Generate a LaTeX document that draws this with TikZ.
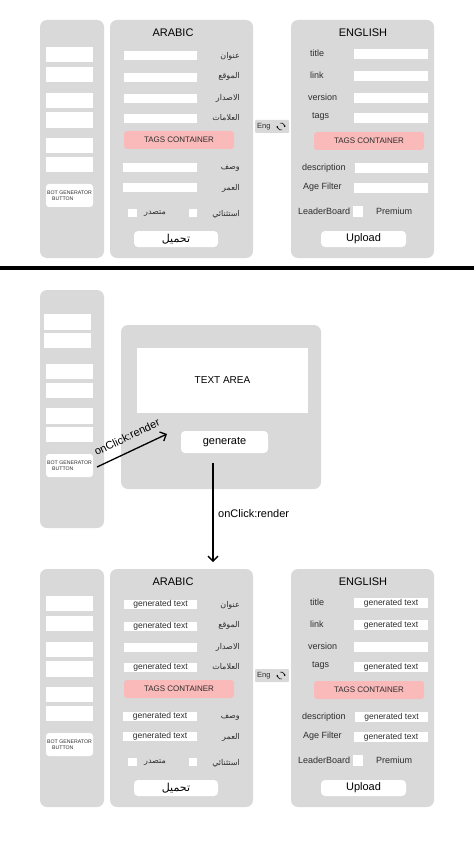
\documentclass[tikz,border=0pt]{standalone}
\usepackage{fontspec}
\setmainfont{Liberation Sans}
\newfontfamily\arabicfont[Script=Arabic]{DejaVu Sans}
\TeXXeTstate=1
\usetikzlibrary{arrows.meta}
\definecolor{panelgray}{RGB}{217,217,217}
\definecolor{tagpink}{RGB}{250,186,186}
\definecolor{labelc}{RGB}{45,45,45}
\newcommand\RL[1]{\beginR #1\endR}
\newcommand\rbox[7]{\node[#1, minimum width={(#5-#3)*1pt}, minimum height={(#6-#4)*1pt}] (#2) at ({(#3+#5)/2},{(#4+#6)/2}) {#7};}
\tikzset{
  panel/.style={fill=panelgray, rounded corners=7pt, inner sep=0pt, outer sep=0pt, draw=none},
  field/.style={fill=white, inner sep=0pt, outer sep=0pt, font=\fontsize{8.5}{9}\selectfont, text=labelc},
  sbox/.style={fill=white, inner sep=0pt, outer sep=0pt},
  botbtn/.style={fill=white, rounded corners=3pt, inner sep=0pt, outer sep=0pt, align=left, font=\fontsize{5.2}{6.5}\selectfont, text=labelc},
  btn/.style={fill=white, rounded corners=4pt, inner sep=0pt, outer sep=0pt, font=\fontsize{11}{12}\selectfont, text=black},
  arbtn/.style={fill=white, rounded corners=4pt, inner sep=0pt, outer sep=0pt, font=\fontsize{11}{12}\arabicfont, text=black},
  tagbox/.style={fill=tagpink, rounded corners=3pt, inner sep=0pt, outer sep=0pt, font=\fontsize{8}{9}\selectfont, text=labelc},
  lbl/.style={inner sep=0pt, font=\fontsize{9}{10}\selectfont, text=labelc},
  arlbl/.style={inner sep=0pt, font=\fontsize{8}{9}\arabicfont, text=labelc},
  ttl/.style={inner sep=0pt, font=\fontsize{11}{12}\selectfont, text=black},
  engbox/.style={fill=panelgray, rounded corners=1pt, inner sep=0pt, outer sep=0pt},
  flow/.style={line width=1.3pt, -{Straight Barb[length=5pt,width=10pt,line width=1.3pt]}},
  flowlbl/.style={inner sep=1pt, font=\fontsize{11}{12}\selectfont, text=black},
}
\newcommand\formsection[1]{%
  % sidebar
  \rbox{panel}{side}{40}{20}{104}{258}{}
  \rbox{sbox}{s1}{46}{47}{93}{62}{}
  \rbox{sbox}{s2}{46}{67}{93}{82}{}
  \rbox{sbox}{s3}{46}{93}{93}{108}{}
  \rbox{sbox}{s4}{46}{112}{93}{128}{}
  \rbox{sbox}{s5}{46}{138}{93}{153}{}
  \rbox{sbox}{s6}{46}{157}{93}{172}{}
  \rbox{botbtn}{bot}{46}{184}{93}{207}{BOT GENERATOR\\\hspace*{5pt}BUTTON}
  % arabic panel
  \rbox{panel}{arp}{110}{20}{253}{258}{}
  \node[ttl] (artitle) at (173,33) {ARABIC};
  \rbox{field}{a1}{124}{51}{197}{60}{#1}
  \rbox{field}{a2}{124}{73}{197}{82}{#1}
  \rbox{field}{a3}{124}{94}{197}{103}{}
  \rbox{field}{a4}{124}{114}{197}{123}{#1}
  \rbox{tagbox}{atags}{124}{131}{234}{149}{TAGS CONTAINER}
  \rbox{field}{a5}{123}{163}{197}{172}{#1}
  \rbox{field}{a6}{123}{183}{197}{192}{#1}
  \rbox{sbox}{acb1}{128}{209}{137}{217}{}
  \rbox{sbox}{acb2}{189}{209}{197}{217}{}
  \rbox{arbtn}{abtn}{134}{231}{218}{247}{\RL{تحميل}}
  \node[arlbl, anchor=east] (al1) at (240,56) {\RL{عنوان}};
  \node[arlbl, anchor=east] (al2) at (240,76) {\RL{الموقع}};
  \node[arlbl, anchor=east] (al3) at (240,98) {\RL{الاصدار}};
  \node[arlbl, anchor=east] (al4) at (240,118) {\RL{العلامات}};
  \node[arlbl, anchor=east] (al5) at (240,168) {\RL{وصف}};
  \node[arlbl, anchor=east] (al6) at (240,188) {\RL{العمر}};
  \node[arlbl] (al7) at (155,214) {\RL{متصدر}};
  \node[arlbl, anchor=east] (al8) at (240,214) {\RL{استثنائي}};
  % toggle
  \rbox{engbox}{eng}{255}{120}{289}{133}{}
  \node[inner sep=0pt, font=\fontsize{7.5}{8}\selectfont, text=labelc, anchor=west] (engtxt) at (257,127) {Eng};
  \coordinate (engicon) at (281,126.5);
  \draw[line width=0.6pt, -{Stealth[length=1.6pt,width=2.2pt]}] (engicon) ++(70:3.6) arc (70:190:3.6);
  \draw[line width=0.6pt, -{Stealth[length=1.6pt,width=2.2pt]}] (engicon) ++(250:3.6) arc (250:370:3.6);
  % english panel
  \rbox{panel}{enp}{291}{20}{434}{258}{}
  \node[ttl] (entitle) at (363,33) {ENGLISH};
  \rbox{field}{e1}{354}{49}{428}{59}{#1}
  \rbox{field}{e2}{354}{71}{428}{81}{#1}
  \rbox{field}{e3}{354}{93}{428}{103}{}
  \rbox{field}{e4}{354}{113}{428}{123}{#1}
  \rbox{tagbox}{etags}{314}{132}{424}{150}{TAGS CONTAINER}
  \rbox{field}{e5}{355}{163}{428}{173}{#1}
  \rbox{field}{e6}{354}{183}{428}{193}{#1}
  \rbox{sbox}{ecb}{353}{206}{363}{217}{}
  \rbox{btn}{ebtn}{321}{231}{406}{247}{Upload}
  \node[lbl, anchor=west] (el1) at (310,53) {title};
  \node[lbl, anchor=west] (el2) at (310,75) {link};
  \node[lbl, anchor=west] (el3) at (308,97) {version};
  \node[lbl, anchor=west] (el4) at (312,117) {tags};
  \node[lbl, anchor=west] (el5) at (302,168) {description};
  \node[lbl, anchor=west] (el6) at (303,187) {Age Filter};
  \node[lbl, anchor=west] (el7) at (298,211) {LeaderBoard};
  \node[lbl, anchor=west] (el8) at (376,211) {Premium};
}
\begin{document}
\begin{tikzpicture}[x=1pt, y=-1pt]
\useasboundingbox[fill=white] (0,0) rectangle (474,850);
% top state
\begin{scope}[name prefix=t-]
  \formsection{}
\end{scope}
% separator
\coordinate (sepL) at (0,268);
\coordinate (sepR) at (474,268);
\draw[line width=4.5pt] (sepL) -- (sepR);
% middle state
\rbox{panel}{mside}{40}{290}{104}{528}{}
\rbox{sbox}{ms1}{44}{314}{91}{330}{}
\rbox{sbox}{ms2}{44}{333}{91}{348}{}
\rbox{sbox}{ms3}{46}{364}{93}{379}{}
\rbox{sbox}{ms4}{46}{383}{93}{398}{}
\rbox{sbox}{ms5}{46}{408}{93}{424}{}
\rbox{sbox}{ms6}{46}{427}{93}{442}{}
\rbox{botbtn}{mbot}{46}{454}{93}{477}{BOT GENERATOR\\\hspace*{5pt}BUTTON}
\rbox{panel}{mpanel}{121}{325}{321}{489}{}
\rbox{sbox}{textarea}{137}{348}{308}{413}{\fontsize{10}{11}\selectfont TEXT AREA}
\rbox{btn}{gen}{181}{431}{268}{453}{generate}
\coordinate (dstart) at (97,467);
\coordinate (dend) at (167,434);
\draw[flow] (dstart) -- (dend);
\node[flowlbl, rotate=25.5] (dlbl) at (127,437) {onClick:render};
\coordinate (vstart) at (213,463);
\coordinate (vend) at (213,562);
\draw[flow] (vstart) -- (vend);
\node[flowlbl, anchor=west] (vlbl) at (217,514) {onClick:render};
% bottom state
\begin{scope}[name prefix=b-, yshift=-549pt]
  \formsection{generated text}
\end{scope}
\end{tikzpicture}
\end{document}
